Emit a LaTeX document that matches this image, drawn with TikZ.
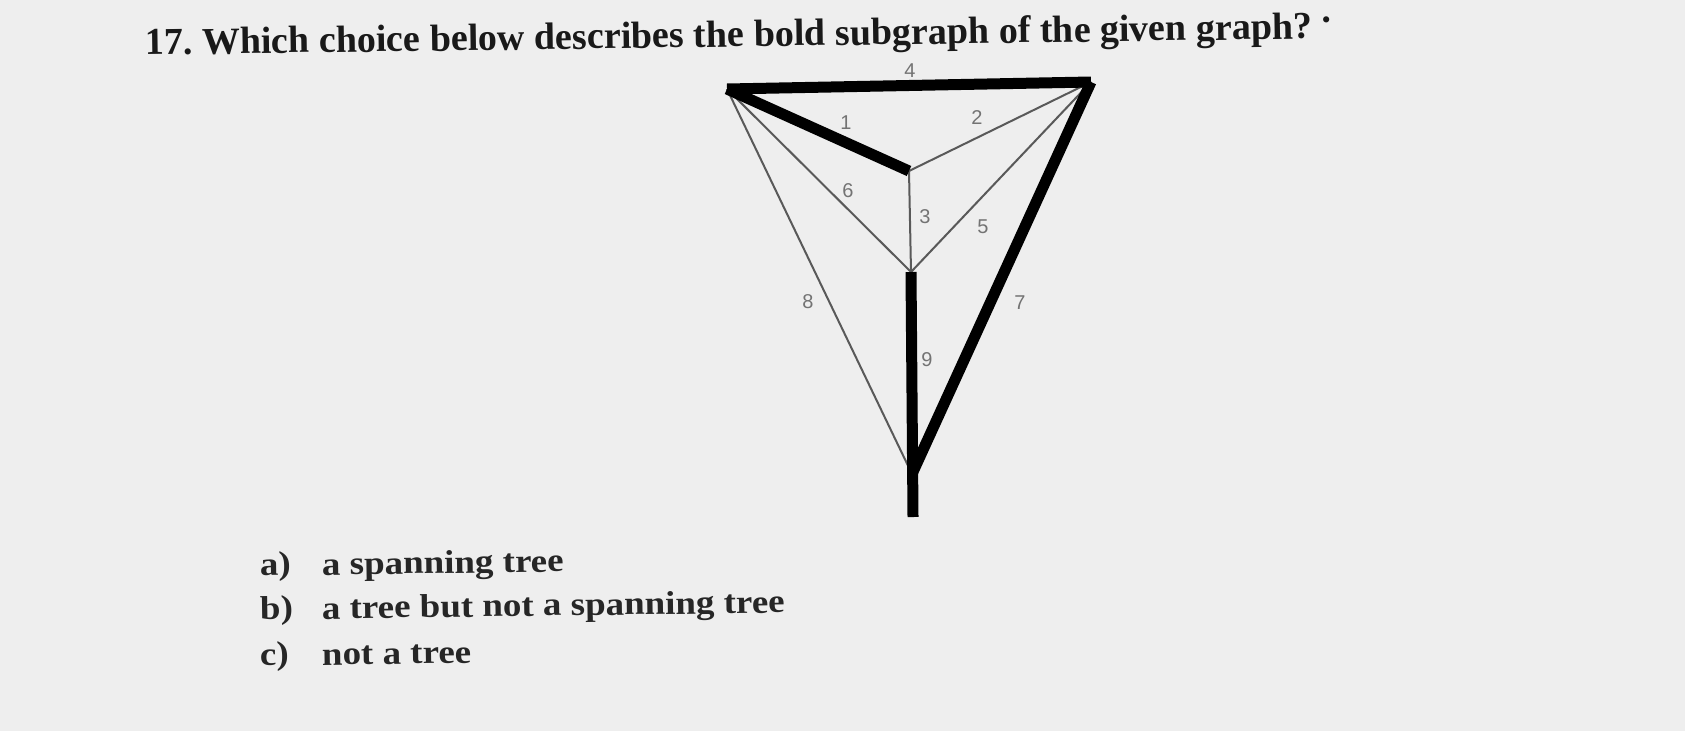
\documentclass[tikz,border=0pt]{standalone}
\usepackage{fontspec}
\setmainfont{Liberation Serif}
\newfontfamily\choicefont[FakeStretch=1.12]{Liberation Serif}
\newfontfamily\labelfont{Liberation Sans}

\begin{document}
\begin{tikzpicture}[x=1pt,y=-1pt,
	thinedge/.style={line width=2pt,black!65},
	boldedge/.style={line width=11pt,black,line join=round},
	elabel/.style={font=\labelfont\fontsize{20}{20}\selectfont,text=black!55,inner sep=0pt},
	question/.style={anchor=base west,inner sep=0pt,rotate=0.8,font=\bfseries\fontsize{38}{38}\selectfont,text=black!90},
	choice/.style={anchor=base west,inner sep=0pt,rotate=0.8,font=\choicefont\bfseries\fontsize{33}{33}\selectfont,text=black!85}]
	\def\largeur{1685}
	\def\hauteur{731}
\fill[gray!13] (0,0) rectangle (\largeur,\hauteur); % background of the photo
\useasboundingbox (0,0) rectangle (\largeur,\hauteur);

%Question
\node[question] (title) at (145,55) {17.\ Which choice below describes the bold subgraph of the given graph?\hspace{0.2em}\raisebox{0.15em}{\textperiodcentered}};

%Sommets du graphe
\coordinate (A) at (727,89);
\coordinate (B) at (1091,82);
\coordinate (C) at (909,171);
\coordinate (D) at (911,272);
\coordinate (E) at (912,474);
\coordinate (T) at (913,517);

%Aretes fines
\draw[thinedge] (C) -- (B);
\draw[thinedge] (C) -- (D);
\draw[thinedge] (A) -- (D);
\draw[thinedge] (D) -- (B);
\draw[thinedge] (A) -- (E);

%Aretes en gras
\draw[boldedge] (A) -- (B);
\draw[boldedge] (A) -- (C);
\draw[boldedge] (B) -- (E);
\draw[boldedge] (D) -- (T);

%Poids
\node[elabel] (w1) at (846,123) {1};
\node[elabel] (w2) at (977,118) {2};
\node[elabel] (w3) at (925,217) {3};
\node[elabel] (w4) at (910,71) {4};
\node[elabel] (w5) at (983,227) {5};
\node[elabel] (w6) at (848,191) {6};
\node[elabel] (w7) at (1020,303) {7};
\node[elabel] (w8) at (808,302) {8};
\node[elabel] (w9) at (927,360) {9};

%Choix
\node[choice] (la) at (260,575) {a)};
\node[choice] (ta) at (322,575) {a spanning tree};
\node[choice] (lb) at (260,619) {b)};
\node[choice] (tb) at (322,619) {a tree but not a spanning tree};
\node[choice] (lc) at (260,665) {c)};
\node[choice] (tc) at (322,665) {not a tree};

\end{tikzpicture}
\end{document}
